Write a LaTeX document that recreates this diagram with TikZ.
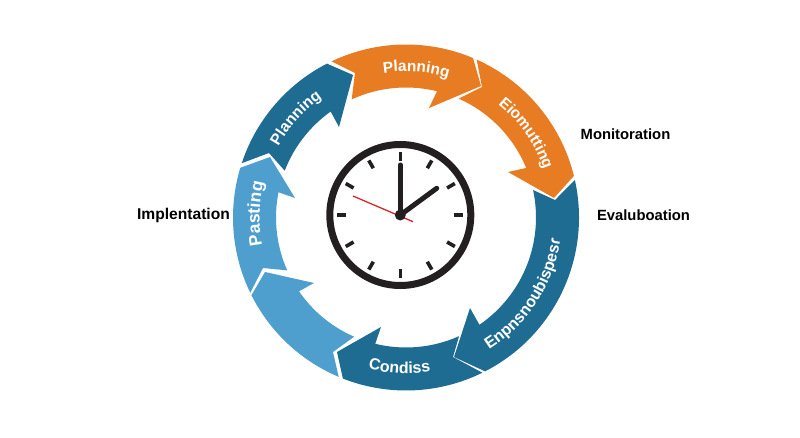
\documentclass[tikz,border=0pt]{standalone}
\usepackage{fontspec}
\setmainfont{Liberation Sans}
\usetikzlibrary{decorations.text}
\definecolor{ringorange}{HTML}{E87C22}
\definecolor{ringdark}{HTML}{1F6C92}
\definecolor{ringlight}{HTML}{4E9FCE}
\definecolor{clockink}{HTML}{231F20}
\definecolor{handred}{HTML}{D9252B}
\newcommand{\pol}[2]{([shift={(406,217.5)}]0-#1:#2)}
\newcommand{\rarc}[3]{arc[start angle={0-#1},end angle={0-#2},radius=#3]}
% text set along an arc around the ring centre (picture coordinates, y up)
\newcommand{\ringtext}[5][15.5]{\path[decorate,decoration={text along path,text align=center,
  text={|\fontsize{#1}{17}\selectfont\bfseries\color{white}|#5}}]
  ([shift={(406,219.5)}]#2:#4) arc[start angle=#2,end angle=#3,radius=#4];}
\tikzset{
  sidelabel/.style={font=\fontsize{14.8}{16}\selectfont\bfseries,text=black,inner sep=0pt},
  tick/.style={clockink,line width=3.6pt},
  bighand/.style={clockink,line width=5pt,line cap=round},
}
\begin{document}
\begin{tikzpicture}[x=1pt,y=1pt]
\useasboundingbox (0,0) rectangle (800,437);
\fill[white] (0,0) rectangle (800,437);
\begin{scope}[shift={(0,437)},yscale=-1]
  % orange: Planning
  \fill[ringorange] \pol{115.5}{173} \rarc{115.5}{67.2}{173} -- (481,86) -- (429,108)
     -- \pol{76.2}{130} \rarc{76.2}{114.7}{130} -- (355,73) -- cycle;
  % orange: Eiomutting
  \fill[ringorange] \pol{65.9}{173} \rarc{65.9}{13.9}{173} -- (554,198) -- (508,172)
     -- \pol{22.4}{130} \rarc{22.4}{66.1}{130} -- (482,87) -- cycle;
  % dark right
  \fill[ringdark] \pol{12.5}{173} \rarc{12.5}{-62.8}{173} -- (454,357) -- (470,308)
     -- \pol{-55.6}{130} \rarc{-55.6}{12.2}{130} -- (555,200) -- cycle;
  % dark bottom
  \fill[ringdark] \pol{-63.8}{173} \rarc{-63.8}{-111.4}{173} -- (337,352) -- (381,327)
     -- \pol{-103.7}{130} \rarc{-103.7}{-65.9}{130} -- (453,357) -- cycle;
  % light bottom left
  \fill[ringlight] \pol{-112.9}{173} \rarc{-112.9}{-153.3}{173} -- (265,272) -- (314,283)
     -- \pol{-145.4}{130} \rarc{-145.4}{-113.5}{130} -- (333,352) -- cycle;
  % light left
  \fill[ringlight] \pol{205.8}{173} \rarc{205.8}{163.3}{173} -- (270,157) -- (295,198)
     -- \pol{168.8}{130} \rarc{168.8}{204}{130} -- (263,268) -- cycle;
  % dark upper left
  \fill[ringdark] \pol{161.7}{173} \rarc{161.7}{117.2}{173} -- (353,75) -- (339,127)
     -- \pol{125.4}{130} \rarc{125.4}{158.9}{130} -- (269,153) -- cycle;
  % clock
  \draw[clockink,line width=7pt] (400.3,215) circle[radius=70.5];
  \foreach \a in {0,30,...,330}
    \draw[tick] ([shift={(400.3,215)}]\a:54) -- ([shift={(400.3,215)}]\a:63);
  \draw[handred,line width=1.3pt] (353,196) -- (413,221.7);
  \draw[bighand] (400.3,215) -- (400.3,165);
  \draw[bighand] (400.3,215) -- (436.7,188.3);
  \fill[clockink] (400.3,215) circle[radius=5.5];
\end{scope}
\ringtext{130}{42}{146}{Planning}
\ringtext{183}{93}{146}{Planning}
\ringtext{80}{-10}{146}{Eiomutting}
\ringtext[17.5]{223.5}{133.5}{146.5}{Pasting}
\ringtext[16]{-89}{23}{156}{Enpnsnoubispesɾ}
\ringtext[16]{-139.5}{-45.5}{156}{Condiss}
\node[sidelabel] (mon) at (625.5,303) {Monitoration};
\node[sidelabel] (eva) at (643.5,222) {Evaluboation};
\node[sidelabel,font=\fontsize{15.6}{16}\selectfont\bfseries] (imp) at (183.5,222) {Implentation};
\end{tikzpicture}
\end{document}
